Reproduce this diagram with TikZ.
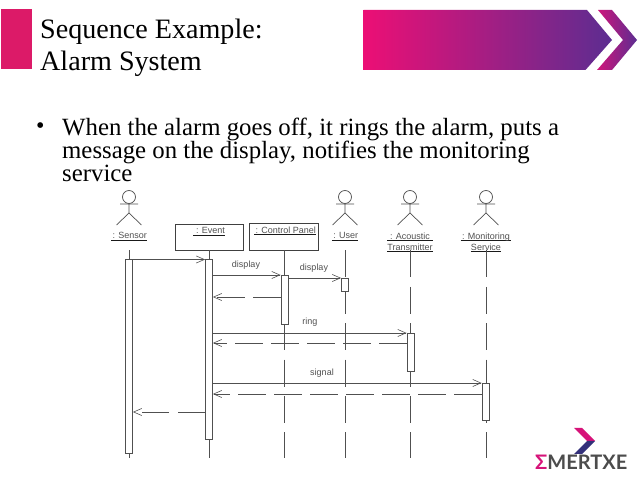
\documentclass[tikz,border=0pt]{standalone}
\usepackage{fontspec}
\setmainfont{Liberation Serif}
\setsansfont{Liberation Sans}
\newfontfamily\logofont{Lato}
\usetikzlibrary{arrows.meta,calc}
\definecolor{uml}{HTML}{505050}
\definecolor{pinkA}{HTML}{EC0F75}
\definecolor{violetA}{HTML}{5C2D91}
\definecolor{navyA}{HTML}{33307A}
\definecolor{tabpink}{HTML}{DC1A68}
\newcommand\ulabel[1]{\leavevmode\setbox0\hbox{#1}\rlap{\color{black!90}\rule[-2.4pt]{\wd0}{1.2pt}}\box0}
\newcommand\tightlines{\setlength{\lineskiplimit}{-100pt}}
\tikzset{
  x=1pt,y=-1pt,
  umlline/.style={draw=uml,line width=0.8pt},
  lifeline/.style={umlline,dash pattern=on 27pt off 9.4pt},
  msg/.style={umlline,-{Straight Barb[length=8pt,width=7pt,line width=0.6pt]}},
  ret/.style={msg,dash pattern=on 27.3pt off 8.7pt},
  activation/.style={draw=uml,fill=white,line width=0.8pt,minimum width=7pt,inner sep=0pt},
  objbox/.style={draw=black!75,fill=white,line width=0.8pt,inner sep=0pt},
  umltext/.style={font=\sffamily\fontsize{9}{11}\selectfont,text=uml,inner sep=0pt,align=center},
  head/.style={circle,draw=uml,line width=0.7pt,minimum size=13pt,inner sep=0pt},
}
\newcommand\actorfig[2]{%
  \node[head] (#1) at (#2,197) {};
  \coordinate (#1neck) at (#2,213);
  \coordinate (#1L) at ($(#1neck)+(-12.5,12)$);
  \coordinate (#1R) at ($(#1neck)+(12.5,12)$);
  \coordinate (#1aL) at (#2-9,204);
  \coordinate (#1aR) at (#2+9,204);
  \draw[umlline,line width=0.7pt] (#1.south) -- (#1neck) (#1aL) -- (#1aR) (#1L) -- (#1neck) -- (#1R);
}
\begin{document}
\begin{tikzpicture}
\useasboundingbox (0,0) rectangle (638,478);
% header
\fill[tabpink] (1,9) rectangle (32,69);
\shade[left color=pinkA,right color=violetA,shading angle=90] (363.5,10) -- (587,10) -- (612,40) -- (585.5,70) -- (363.5,70) -- cycle;
\shade[left color=pinkA!80!violetA,right color=violetA] (598,10) -- (612,10) -- (637,40) -- (612,70) -- (597,70) -- (623,40) -- cycle;
\node[anchor=north west,align=left,inner sep=0pt,font=\fontsize{28.1}{32}\selectfont] (title) at (40,19) {\tightlines Sequence Example:\\Alarm System};
\node[anchor=base west,inner sep=0pt,font=\fontsize{24}{25}\selectfont] (bullet) at (36,134) {•};
\node[anchor=north west,align=left,inner sep=0pt,font=\fontsize{24.8}{23}\selectfont] (body) at (62,118) {\tightlines When the alarm goes off, it rings the alarm, puts a\\message on the display, notifies the monitoring\\service};
% objects
\actorfig{sensor}{129}
\actorfig{user}{345}
\actorfig{acoustic}{410}
\actorfig{monitor}{486}
\node[umltext] (sensorL) at (129,237) {\ulabel{\,: Sensor}};
\node[umltext] (userL) at (345,237) {\ulabel{\,: User}};
\node[umltext] (acousticL) at (410,242.5) {\ulabel{\,\,: Acoustic\,\,}\\\ulabel{Transmitter}};
\node[umltext] (monitorL) at (486,242.5) {\ulabel{\,: Monitoring\,}\\\ulabel{Service}};
\node[objbox,minimum width=68pt,minimum height=26pt] (event) at (209,237) {};
\node[objbox,minimum width=69pt,minimum height=27pt] (panel) at (283.5,236.5) {};
\node[umltext] (eventL) at (209,232) {\ulabel{\,\,: Event}};
\node[umltext] (panelL) at (285,231) {\ulabel{\,: Control Panel}};
% lifeline ends
\coordinate (sensorT) at (129,250.5);
\coordinate (sensorB) at (129,458);
\coordinate (eventB) at (209,458);
\coordinate (panelB) at (284,458);
\coordinate (userT) at (345,250.5);
\coordinate (userB) at (345,458);
\coordinate (acousticT) at (410,250.5);
\coordinate (acousticB) at (410,458);
\coordinate (monitorT) at (486,250.5);
\coordinate (monitorB) at (486,458);
\draw[lifeline] (sensorT) -- (sensorB);
\draw[lifeline] (event.south) -- (eventB);
\draw[lifeline] (panel.south -| panelB) -- (panelB);
\draw[lifeline] (userT) -- (userB);
\draw[lifeline] (acousticT) -- (acousticB);
\draw[lifeline] (monitorT) -- (monitorB);
% activations
\node[activation,minimum height=194pt] (aSensor) at (129,356) {};
\node[activation,minimum height=180pt] (aEvent) at (209,349) {};
\node[activation,minimum height=49pt] (aPanel) at (284.5,299.5) {};
\node[activation,minimum height=13pt] (aUser) at (345,284.5) {};
\node[activation,minimum height=38pt] (aAcoustic) at (410.5,352) {};
\node[activation,minimum height=37pt] (aMonitor) at (485.5,401.5) {};
% messages
\draw[msg] (aSensor.east |- 0,259.5) -- (aEvent.west |- 0,259.5);
\draw[msg] (aEvent.east |- 0,275) -- (aPanel.west |- 0,275);
\draw[msg] (aPanel.east |- 0,278) -- (aUser.west |- 0,278);
\draw[ret] (aPanel.west |- 0,297) -- (aEvent.east |- 0,297);
\draw[msg] (aEvent.east |- 0,333) -- (aAcoustic.west |- 0,333);
\draw[ret] (aAcoustic.west |- 0,343) -- (aEvent.east |- 0,343);
\draw[msg] (aEvent.east |- 0,383) -- (aMonitor.west |- 0,383);
\draw[ret] (aMonitor.west |- 0,394) -- (aEvent.east |- 0,394);
\draw[ret] (aEvent.west |- 0,412) -- (aSensor.east |- 0,412);
% labels
\node[umltext] (m1) at (246,265) {display};
\node[umltext] (m2) at (314,268) {display};
\node[umltext] (m3) at (310,322.5) {ring};
\node[umltext] (m4) at (322,373) {signal};
% logo
\fill[pinkA!85!violetA] (574,428) -- (582,428) -- (595,441) -- (587,441) -- cycle;
\fill[navyA] (587,441) -- (595,441) -- (582,454) -- (574,454) -- cycle;
\node[anchor=base west,inner sep=0pt,font=\logofont\bfseries\fontsize{20}{20}\selectfont,text=black!70] (logo) at (535,470) {\textcolor{pinkA!85!violetA}{Σ}MERTXE};
\end{tikzpicture}
\end{document}
